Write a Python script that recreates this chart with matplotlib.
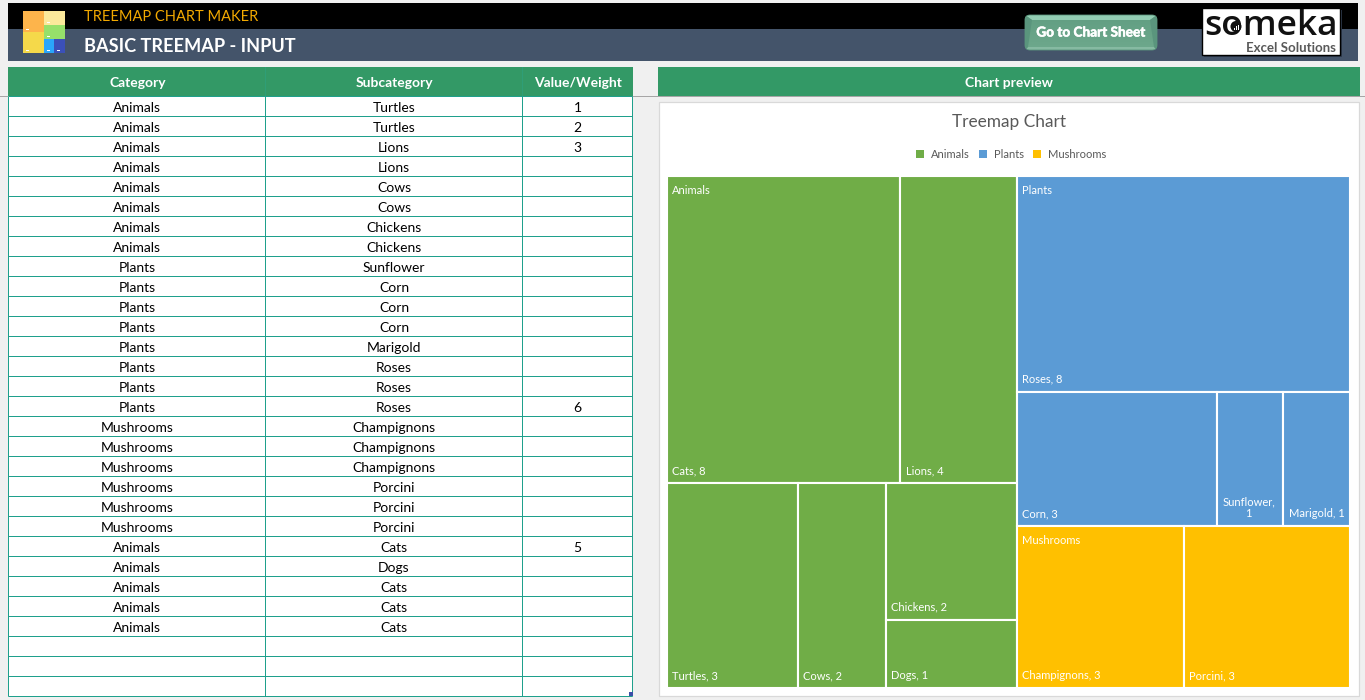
#!/usr/bin/env python3

"""Treemap chart maker sheet: input table on the left, treemap preview on the right."""

import numpy as np
from matplotlib import pyplot as plt
from matplotlib import patheffects as pe
from matplotlib.patches import Rectangle, FancyBboxPatch, Polygon, Circle

plt.rcParams["font.family"] = ["Lato", "DejaVu Sans"]

# table content
headers = ["Category", "Subcategory", "Value/Weight"]
table_categories = (["Animals"] * 8 + ["Plants"] * 8 + ["Mushrooms"] * 6
                    + ["Animals"] * 5 + [""] * 3)
table_subcategories = ["Turtles", "Turtles", "Lions", "Lions", "Cows", "Cows",
                       "Chickens", "Chickens", "Sunflower", "Corn", "Corn", "Corn",
                       "Marigold", "Roses", "Roses", "Roses", "Champignons",
                       "Champignons", "Champignons", "Porcini", "Porcini", "Porcini",
                       "Cats", "Dogs", "Cats", "Cats", "Cats", "", "", ""]
table_values = ["1", "2", "3", "", "", "", "", "", "", "", "", "", "", "", "", "6",
                "", "", "", "", "", "", "5", "", "", "", "", "", "", ""]

# treemap content, nested as drawn: each list level splits the other way
animals = [[("Cats", 8), ("Lions", 4)],
           [("Turtles", 3), ("Cows", 2), [("Chickens", 2), ("Dogs", 1)]]]
plants = [[("Roses", 8)],
          [("Corn", 3), ("Sunflower", 1), ("Marigold", 1)]]
mushrooms = [("Champignons", 3), ("Porcini", 3)]

legend_names = ["Animals", "Plants", "Mushrooms"]
GREEN, BLUE, GOLD = "#70AD47", "#5B9BD5", "#FFC000"

HEADER_GREEN = "#339966"
GRID = "#1FA08C"


def total(node):
    if isinstance(node, tuple):
        return node[1]
    return sum(total(n) for n in node)


def layout(node, x, y, w, h, horizontal, out):
    # slice the box along one side in proportion to the weights
    if isinstance(node, tuple):
        out.append((node[0], node[1], x, y, w, h))
        return out
    s = total(node)
    for child in node:
        frac = total(child) / s
        if horizontal:
            layout(child, x, y, w * frac, h, False, out)
            x += w * frac
        else:
            layout(child, x, y, w, h * frac, True, out)
            y += h * frac
    return out


fig = plt.figure(figsize=(13.65, 7), dpi=100, facecolor="#F0F0F0")
ax = fig.add_axes([0, 0, 1, 1])
ax.set_axis_off()

# title band
ax.add_patch(Rectangle((8, 3), 1350, 26, fc="black", lw=0))
ax.add_patch(Rectangle((8, 29), 1350, 32, fc="#44546A", lw=0))
ax.text(84, 17, "TREEMAP CHART MAKER", color="#F2A900", fontsize=10.5, va="center")
ax.text(84, 47, "BASIC TREEMAP - INPUT", color="white", fontsize=13.1, weight="bold", va="center")

# small treemap logo
for x, y, w, h, c in [(23, 11, 21, 21, "#FDB44B"), (23, 32, 21, 21, "#F5D94A"),
                      (44, 11, 21, 14, "#FBE99B"), (44, 25, 21, 14, "#96E06A"),
                      (44, 39, 10, 14, "#2AA6FA"), (54, 39, 11, 14, "#3B50B8")]:
    ax.add_patch(Rectangle((x, y), w, h, fc=c, lw=0))
for x, y in [(27, 50), (27, 29), (48, 50), (48, 36), (48, 22), (58, 50)]:
    ax.add_patch(Rectangle((x - 1.5, y), 3, 1, fc="white", lw=0))

# button
bx0, by0, bx1, by1 = 1025, 15, 1157, 50
button = FancyBboxPatch((bx0, by0), bx1 - bx0, by1 - by0, boxstyle="round,pad=0,rounding_size=5",
                        fc="none", ec="#5B957D", lw=0.6, zorder=3)
ax.add_patch(button)
steps = np.linspace(0, 1, 40)[:, None, None]
colors = np.array([0.38, 0.62, 0.51]) + np.array([0.05, 0.04, 0.04]) * steps
img = ax.imshow(colors, extent=(bx0, bx1, by1, by0), aspect="auto", zorder=2)
img.set_clip_path(button)
for pts, c in [([(bx0, by0), (bx1, by0), (bx1 - 7, by0 + 5), (bx0 + 7, by0 + 5)], "#93CDB3"),
               ([(bx0, by1), (bx1, by1), (bx1 - 3, by1 - 3), (bx0 + 3, by1 - 3)], "#86BAA2"),
               ([(bx0, by0), (bx0 + 7, by0 + 5), (bx0 + 3, by1 - 3), (bx0, by1)], "#5A957D"),
               ([(bx1, by0), (bx1 - 7, by0 + 5), (bx1 - 3, by1 - 3), (bx1, by1)], "#5A957D")]:
    wedge = Polygon(pts, fc=c, lw=0, zorder=2.5)
    ax.add_patch(wedge)
    wedge.set_clip_path(button)
ax.text(1091, 32.5, "Go to Chart Sheet", color="white", fontsize=9.8, weight="bold",
        ha="center", va="center", zorder=4,
        path_effects=[pe.withStroke(linewidth=0.4, foreground="white")])

# company logo
ax.add_patch(Rectangle((1204, 10), 138, 47, fc="#2F3B4E", lw=0))
ax.add_patch(Rectangle((1202, 8), 138, 47, fc="white", ec="black", lw=1))
ax.text(1271, 35, "someka", color="#111111", fontsize=25.5, family="Open Sans",
        weight="semibold", ha="center", va="baseline")
ax.add_patch(Circle((1236, 26.5), 5.5, fc="#111111", lw=0, zorder=3))
for x, h in [(1233.5, 2), (1235.5, 3.5), (1237.5, 5)]:
    ax.add_patch(Rectangle((x, 29.5 - h), 1, h, fc="white", lw=0, zorder=4))
ax.text(1336, 47.5, "Excel Solutions", color="#595959", fontsize=9.5, weight="bold",
        ha="right", va="center")

# grey line under the frozen header
ax.plot([0, 1365], [96, 96], color="#A6A6A6", lw=0.72, zorder=1)

# table
col_edges = [8, 265, 522, 632]
row_h = 20
top = 96
n_rows = len(table_categories)
ax.add_patch(Rectangle((8, 67), 625, 29, fc=HEADER_GREEN, lw=0, zorder=2))
ax.add_patch(Rectangle((8, top), 624, row_h * n_rows, fc="white", lw=0, zorder=2))
for xe in col_edges[1:3]:
    ax.plot([xe, xe], [67, 96], color="#2F9E77", lw=0.72, zorder=3)
for i, name in enumerate(headers):
    ax.text((col_edges[i] + col_edges[i + 1]) / 2 + 1, 83, name, color="white", fontsize=10,
            weight="bold", ha="center", va="center", zorder=4)
for i in range(n_rows + 1):
    ax.plot([col_edges[0], col_edges[-1]], [top + i * row_h] * 2, color=GRID, lw=0.72, zorder=3,
            solid_capstyle="butt")
for xe in col_edges:
    ax.plot([xe, xe], [top, top + n_rows * row_h], color=GRID, lw=0.72, zorder=3,
            solid_capstyle="butt")
for i in range(n_rows):
    y = top + i * row_h + 12
    for j, col in enumerate([table_categories, table_subcategories, table_values]):
        ax.text((col_edges[j] + col_edges[j + 1]) / 2 + 0.5, y, col[i], color="black", fontsize=10,
                ha="center", va="center", zorder=4)
ax.add_patch(Rectangle((629, 692), 4, 4, fc="#3B4FA8", lw=0, zorder=5))

# chart panel
ax.add_patch(Rectangle((658, 67), 702, 29, fc=HEADER_GREEN, lw=0, zorder=2))
ax.text(1009, 83, "Chart preview", color="white", fontsize=10, weight="bold",
        ha="center", va="center", zorder=4)
ax.add_patch(Rectangle((659, 102), 700, 594, fc="white", ec="#D9D9D9", lw=0.9, zorder=2))
ax.text(1008.5, 122, "Treemap Chart", color="#595959", fontsize=12.4, ha="center", va="center", zorder=4)
for name, c, sx in zip(legend_names, [GREEN, BLUE, GOLD], [916, 979, 1033]):
    ax.add_patch(Rectangle((sx, 150), 8, 8, fc=c, lw=0, zorder=4))
    ax.text(sx + 15, 154.5, name, color="#595959", fontsize=8, va="center", zorder=4)

# treemap
X0, Y0, W, H = 666.6, 176, 683.4, 512
w_left = W * total(animals) / total([animals, plants, mushrooms])
h_plants = H * total(plants) / total([plants, mushrooms])
groups = [(animals, "Animals", GREEN, (X0, Y0, w_left, H), False),
          (plants, "Plants", BLUE, (X0 + w_left, Y0, W - w_left, h_plants), False),
          (mushrooms, "Mushrooms", GOLD, (X0 + w_left, Y0 + h_plants, W - w_left, H - h_plants), True)]
for tree, group_name, colour, box, horizontal in groups:
    cells = layout(tree, *box, horizontal, [])
    for name, val, x, y, w, h in cells:
        ax.add_patch(Rectangle((x, y), w, h, fc=colour, ec="white", lw=1.5, zorder=3))
        label = f"{name}, {val}"
        if name == "Sunflower":
            label = f"{name},\n{val}"
        ax.text(x + 5.4, y + h - 7, label, color="white", fontsize=8, ha="left", va="bottom",
                linespacing=1.15, multialignment="center", zorder=4)
    ax.text(box[0] + 5.4, box[1] + 14, group_name, color="white", fontsize=8, va="center", zorder=4)

ax.set_xlim(0, 1365)
ax.set_ylim(700, 0)

fig.savefig("out.png", dpi=100, facecolor=fig.get_facecolor())
